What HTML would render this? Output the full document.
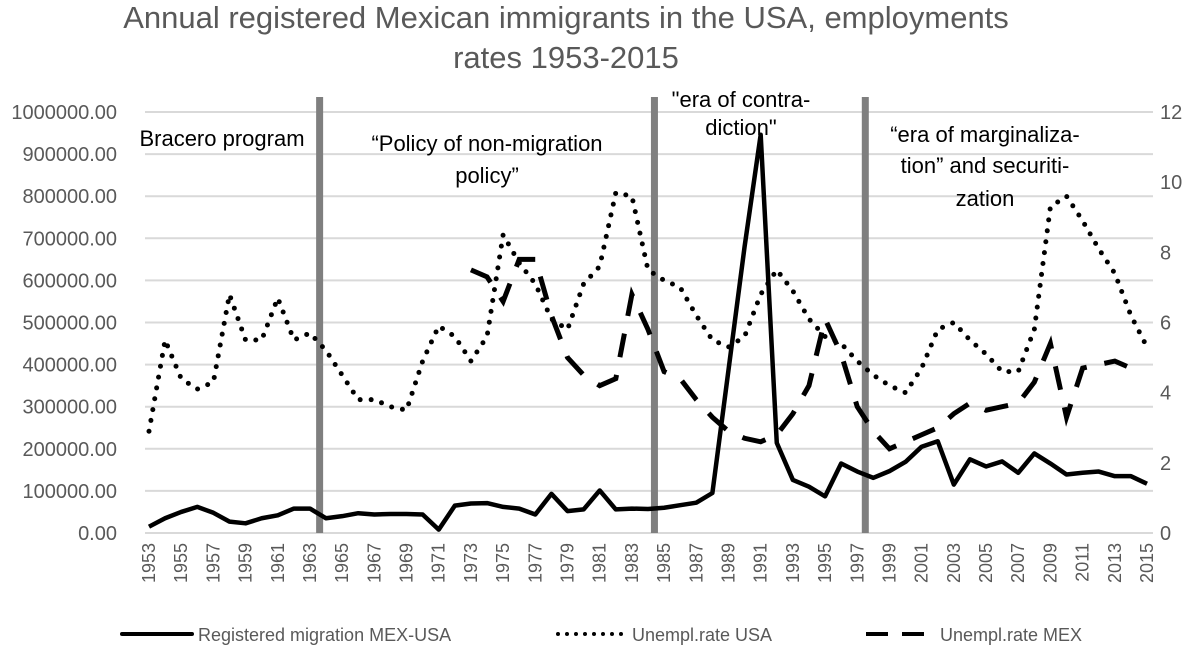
<!DOCTYPE html>
<html><head><meta charset="utf-8"><style>
body{margin:0;background:#fff;}
svg{display:block;font-family:"Liberation Sans",sans-serif;}
</style></head><body>
<svg id="chart" width="1200" height="647" viewBox="0 0 1200 647">
<text x="566" y="28" font-size="31" fill="#595959" text-anchor="middle">Annual registered Mexican immigrants in the USA, employments</text>
<text x="566" y="68" font-size="31" fill="#595959" text-anchor="middle">rates 1953-2015</text>
<g id="grid"></g>
<g id="yl"></g>
<g id="yr"></g>
<g id="xl"></g>
<g id="bars"></g>
<g id="series"></g>
<g font-size="22" fill="#000" text-anchor="middle">
<text x="222" y="146">Bracero program</text>
<text x="487" y="151">“Policy of non-migration</text>
<text x="487" y="183">policy”</text>
<text x="741" y="107">"era of contra-</text>
<text x="741" y="135">diction"</text>
<text x="985" y="142">“era of marginaliza-</text>
<text x="985" y="173">tion” and securiti-</text>
<text x="985" y="206">zation</text>
</g>
<g font-size="18" fill="#595959">
<line x1="122" y1="634" x2="192" y2="634" stroke="#000" stroke-width="4" stroke-linecap="round"/>
<text x="198" y="641">Registered migration MEX-USA</text>
<line x1="558" y1="634" x2="626" y2="634" stroke="#000" stroke-width="4" stroke-dasharray="0 9" stroke-linecap="round"/>
<text x="632" y="641">Unempl.rate USA</text>
<line x1="866" y1="634" x2="934" y2="634" stroke="#000" stroke-width="4" stroke-dasharray="22 14"/>
<text x="940" y="641">Unempl.rate MEX</text>
</g>
</svg>
<script>
const years=[];for(let y=1953;y<=2015;y++)years.push(y);
const migration=[15000,35000,50000,62000,48000,27000,23000,35000,42000,58000,58000,35000,40000,47000,44000,45000,45000,44000,8000,65000,70000,71000,62000,58000,44000,93000,52000,56000,101000,56000,58000,57000,60000,66000,72000,95000,387000,680000,946000,214000,126000,110000,87000,165000,146000,131000,147000,169000,205000,218000,115000,175000,158000,170000,143000,189000,165000,139000,143000,146000,135000,135000,117000];
const unempUSA=[2.9,5.5,4.4,4.1,4.3,6.8,5.5,5.5,6.7,5.5,5.7,5.2,4.5,3.8,3.8,3.6,3.5,4.9,5.9,5.6,4.9,5.6,8.5,7.7,7.1,6.1,5.8,7.1,7.6,9.7,9.6,7.5,7.2,7.0,6.2,5.5,5.3,5.6,6.8,7.5,6.9,6.1,5.6,5.4,4.9,4.5,4.2,4.0,4.7,5.8,6.0,5.5,5.1,4.6,4.6,5.8,9.3,9.6,8.9,8.1,7.4,6.2,5.3];
const mexYears=[1973,1974,1975,1976,1977,1978,1979,1980,1981,1982,1983,1984,1985,1986,1987,1988,1989,1990,1991,1992,1993,1994,1995,1996,1997,1998,1999,2000,2001,2002,2003,2004,2005,2006,2007,2008,2009,2010,2011,2012,2013,2014];
const unempMEX=[7.5,7.3,6.6,7.8,7.8,6.2,5.0,4.5,4.2,4.4,6.8,5.8,4.6,4.4,3.8,3.3,2.9,2.7,2.6,2.8,3.4,4.2,6.1,5.1,3.6,2.9,2.4,2.6,2.8,3.0,3.4,3.7,3.5,3.6,3.7,4.3,5.4,3.3,4.7,4.8,4.9,4.7];
const leftTicks=[0,100000,200000,300000,400000,500000,600000,700000,800000,900000,1000000];
const rightTicks=[0,2,4,6,8,10,12];
const eraBreaks=[1963.6,1984.4,1997.5];

const NS="http://www.w3.org/2000/svg";
const X0=149,X1=1147,Y0=533,Y1=112;
const x=y=>X0+(y-1953)*(X1-X0)/62;
const yL=v=>Y0-v/1000000*(Y0-Y1);
const yR=v=>Y0-v/12*(Y0-Y1);
function mk(tag,attrs,parent){const e=document.createElementNS(NS,tag);for(const k in attrs)e.setAttribute(k,attrs[k]);parent.appendChild(e);return e;}
const g=id=>document.getElementById(id);

leftTicks.forEach(t=>{
  const l=mk('line',{x1:X0-4,x2:X1+6,y1:yL(t),y2:yL(t),stroke:'#d9d9d9','stroke-width':2},g('grid'));
  
  
  const tx=mk('text',{x:117,y:yL(t)+7,'font-size':20,fill:'#595959','text-anchor':'end'},g('yl'));
  tx.textContent=t.toFixed(2);
  
  
});
rightTicks.forEach(t=>{
  const tx=mk('text',{x:1160,y:yR(t)+7,'font-size':20,fill:'#595959'},g('yr'));
  tx.textContent=t;
  
  
});
years.forEach((yr,i)=>{
  if(i%2)return;
  const tx=mk('text',{x:0,y:0,'font-size':18,fill:'#595959','text-anchor':'end',transform:`translate(${x(yr)+6},543) rotate(-90)`},g('xl'));
  tx.textContent=yr;
  
  
});
eraBreaks.forEach(b=>{
  const r=mk('rect',{x:x(b)-3.5,y:97,width:7,height:Y0-97,fill:'#7f7f7f'},g('bars'));
  
  
});
const pts=(xs,vs,f)=>xs.map((a,i)=>x(a)+','+f(vs[i])).join(' ');
const pu=mk('polyline',{points:pts(years,unempUSA,yR),fill:'none',stroke:'#000','stroke-width':5,'stroke-dasharray':'0 11','stroke-linecap':'round'},g('series'));


const pm=mk('polyline',{points:pts(mexYears,unempMEX,yR),fill:'none',stroke:'#000','stroke-width':5,'stroke-dasharray':'24 18'},g('series'));


const pg=mk('polyline',{points:pts(years,migration,yL),fill:'none',stroke:'#000','stroke-width':4.5,'stroke-linejoin':'round'},g('series'));


</script>
</body></html>
